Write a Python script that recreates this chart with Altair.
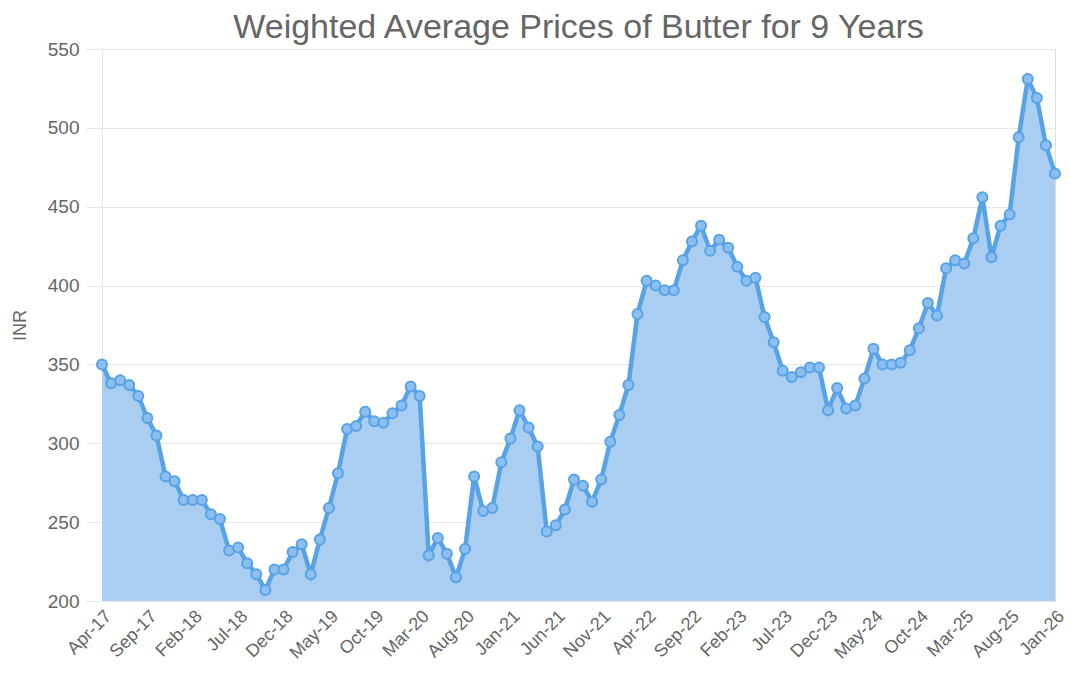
import altair as alt
import pandas as pd

months = ["Jan", "Feb", "Mar", "Apr", "May", "Jun", "Jul", "Aug", "Sep", "Oct", "Nov", "Dec"]
labels = []
y, m = 2017, 3
for _ in range(106):
    labels.append(f"{months[m]}-{str(y)[2:]}")
    m += 1
    if m == 12:
        m = 0
        y += 1

prices = [
    350, 338, 340, 337, 330, 316, 305, 279, 276, 264,
    264, 264, 255, 252, 232, 234, 224, 217, 207, 220,
    220, 231, 236, 217, 239, 259, 281, 309, 311, 320,
    314, 313, 319, 324, 336, 330, 229, 240, 230, 215,
    233, 279, 257, 259, 288, 303, 321, 310, 298, 244,
    248, 258, 277, 273, 263, 277, 301, 318, 337, 382,
    403, 400, 397, 397, 416, 428, 438, 422, 429, 424,
    412, 403, 405, 380, 364, 346, 342, 345, 348, 348,
    321, 335, 322, 324, 341, 360, 350, 350, 351, 359,
    373, 389, 381, 411, 416, 414, 430, 456, 418, 438,
    445, 494, 531, 519, 489, 471,
]
tick_labels = labels[::5]
y_ticks = [200, 250, 300, 350, 400, 450, 500, 550]

df = pd.DataFrame({"Month": labels, "INR": prices})

FONT = "Liberation Sans"
LINE = "#58a2e6"
AREA = "#aacef2"

x_enc = alt.X(
    "Month:O", sort=None,
    scale=alt.Scale(type="point", padding=0),
    axis=alt.Axis(values=tick_labels, labelAngle=-45, ticks=False, domain=False,
                  grid=False, title=None, labelFontSize=18, labelColor="#666666",
                  labelFont=FONT, labelPadding=6, labelOverlap=False),
)
y_enc = alt.Y(
    "INR:Q",
    scale=alt.Scale(domain=[200, 550], nice=False, zero=False),
    axis=alt.Axis(values=y_ticks, title="INR", titleFontSize=18, titleFont=FONT,
                  titleColor="#666666", titleFontWeight="normal", titlePadding=18,
                  labelFontSize=19, labelColor="#666666", labelFont=FONT,
                  tickSize=16, tickColor="#e6e6e6", labelPadding=7,
                  domain=True, domainColor="#e6e6e6", gridColor="#e6e6e6"),
)

base = alt.Chart(df).encode(x=x_enc, y=y_enc)
area = base.mark_area(color=AREA, opacity=1).encode(y2=alt.datum(200))
line = base.mark_line(color=LINE, strokeWidth=4.5, strokeJoin="miter")
pts = base.mark_point(shape="circle", filled=True, size=100, fill="#8cbff0",
                      stroke=LINE, strokeWidth=2, opacity=1)

chart = (area + line + pts).properties(
    width=953, height=552,
    title=alt.Title("Weighted Average Prices of Butter for 9 Years", fontSize=34,
                    font=FONT, color="#666666", fontWeight="normal", offset=-5,
                    anchor="middle"),
    autosize=alt.AutoSizeParams(type="none"),
    padding={"left": 94, "top": 41, "right": 17, "bottom": 66},
).configure_view(stroke=None).configure(background="white")

chart.save("out.html", embed_options={"renderer": "svg", "actions": False})
